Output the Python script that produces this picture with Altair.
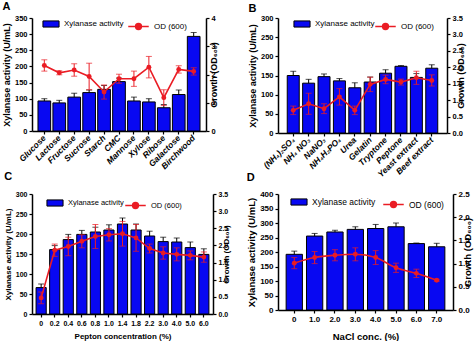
import altair as alt
import pandas as pd

BLUE = "#0808f2"
RED = "#ea1c24"

A_cat = ["Glucose", "Lactose", "Fructose", "Sucrose", "Starch", "CMC", "Mannose", "Xylose", "Ribose", "Galactose", "Birchwood"]
A_xyl = [93, 87, 105, 119, 129, 153, 93, 90, 72, 113, 293]
A_xyl_err = [7, 8, 12, 8, 12, 11, 12, 10, 10, 14, 12]
A_od = [2.32, 2.06, 2.16, 1.93, 1.38, 1.85, 1.85, 2.26, 1.18, 2.18, 2.11]
A_od_err = [0.20, 0.07, 0.22, 0.47, 0.25, 0.16, 0.27, 0.38, 0.28, 0.13, 0.13]

B_cat = ["(NH\u2084)\u2082SO\u2084", "NH\u2084 NO\u2083", "NaNO\u2083", "NH\u2084H\u2082PO\u2084", "Urea", "Gelatin", "Tryptone", "Peptone", "Yeast extract", "Beef extract"]
B_xyl = [150, 130, 147, 136, 118, 133, 156, 174, 145, 169]
B_xyl_err = [11, 10, 7, 6, 13, 13, 9, 2, 10, 9]
B_od = [0.69, 0.89, 0.74, 1.10, 0.69, 1.48, 1.63, 1.55, 1.68, 1.60]
B_od_err = [0.13, 0.32, 0.15, 0.25, 0.13, 0.22, 0.13, 0.09, 0.20, 0.17]

C_cat = ["0", "0.2", "0.4", "0.6", "0.8", "1.0", "1.4", "1.8", "2.2", "3.0", "4.0", "5.0", "6.0"]
C_xyl = [66, 161, 186, 199, 205, 210, 225, 210, 195, 181, 180, 166, 149]
C_xyl_err = [9, 10, 13, 10, 12, 13, 15, 15, 12, 11, 10, 14, 14]
C_od = [0.47, 1.86, 1.97, 2.12, 2.26, 2.31, 2.34, 2.22, 1.91, 1.78, 1.74, 1.71, 1.66]
C_od_err = [0.17, 0.18, 0.27, 0.19, 0.35, 0.18, 0.36, 0.39, 0.13, 0.18, 0.19, 0.13, 0.15]

D_cat = ["0", "1.0", "2.0", "3.0", "4.0", "5.0", "6.0", "7.0"]
D_xyl = [192, 255, 269, 278, 281, 287, 229, 218]
D_xyl_err = [11, 9, 6, 9, 14, 13, 2, 12]
D_od = [1.01, 1.13, 1.18, 1.20, 1.13, 0.91, 0.79, 0.64]
D_od_err = [0.12, 0.13, 0.12, 0.14, 0.15, 0.10, 0.09, 0.02]

NARROW = "Liberation Sans Narrow, Liberation Sans, DejaVu Sans, Arial"
REG = "Liberation Sans, DejaVu Sans, Arial"

LINE_SYM = "M-1,0H1M0.28,0A0.28,0.28,0,1,1,-0.28,0A0.28,0.28,0,1,1,0.28,0Z"
RECT_SYM = "M-1,-0.38H1V0.38H-1Z"


def panel(letter, cats, xyl, xerr, od, oderr, lmax, lstep, rmax, rstep, rfmt,
          w, h, pin, pout, xtitle, angle, lx1, lx2, ly, font, fs_lab, fs_xlab, fs_title, fs_leg,
          tdy, xtpad, interp="linear"):
    df = pd.DataFrame({
        "cat": cats, "xyl": xyl,
        "xyl_hi": [a + b for a, b in zip(xyl, xerr)],
        "od": od,
        "od_lo": [a - b for a, b in zip(od, oderr)],
        "od_hi": [a + b for a, b in zip(od, oderr)],
        "s1": ["Xylanase activity"] * len(cats),
        "s2": ["OD (600)"] * len(cats),
    })
    xaxis_kw = dict(labelAngle=angle, labelFont=font, labelFontSize=fs_xlab,
                    titleFont=font, titleFontSize=fs_title, labelPadding=2,
                    titlePadding=xtpad)
    xaxis_kw["title"] = xtitle if xtitle else None
    if angle != 0:
        xaxis_kw["labelAlign"] = "right"
        xaxis_kw["labelBaseline"] = "middle"
        xaxis_kw["labelFontStyle"] = "italic"
    x = alt.X("cat:N", sort=cats,
              scale=alt.Scale(paddingInner=pin, paddingOuter=pout),
              axis=alt.Axis(**xaxis_kw))
    lvals = list(range(0, lmax + 1, lstep))
    laxis = alt.Axis(title="Xylanase activity (U/mL)", values=lvals,
                     labelFont=font, titleFont=font, labelFontSize=fs_lab,
                     titleFontSize=fs_title)
    lscale = alt.Scale(domain=[0, lmax], nice=False)
    n = int(round(rmax / rstep))
    rvals = [round(i * rstep, 2) for i in range(n + 1)]
    raxis = alt.Axis(title="Growth (OD\u2086\u2080\u2080)", orient="right", values=rvals,
                     format=rfmt, titleAngle=270, labelFont=font, titleFont=font,
                     labelFontSize=fs_lab, titleFontSize=fs_title)
    rscale = alt.Scale(domain=[0, rmax], nice=False)

    base = alt.Chart(df)
    bars = base.mark_bar(stroke="black", strokeWidth=1).encode(
        x=x,
        y=alt.Y("xyl:Q", scale=lscale, axis=laxis),
        fill=alt.Fill("s1:N", scale=alt.Scale(domain=["Xylanase activity"], range=[BLUE]),
                      legend=alt.Legend(title=None, orient="none", legendX=lx1, legendY=ly,
                                        symbolType=RECT_SYM, symbolSize=260,
                                        symbolStrokeColor="black", symbolStrokeWidth=1,
                                        labelFont=font, labelFontSize=fs_leg)),
    )
    berr = base.mark_rule(color="black", strokeWidth=1).encode(
        x=x, y=alt.Y("xyl:Q", scale=lscale, axis=laxis), y2="xyl_hi:Q")
    btick = base.mark_tick(color="black", thickness=1, size=6, orient="horizontal").encode(
        x=x, y=alt.Y("xyl_hi:Q", scale=lscale, axis=laxis))
    left = alt.layer(bars, berr, btick)

    rerr = base.mark_rule(color=RED, strokeWidth=1).encode(
        x=x, y=alt.Y("od_lo:Q", scale=rscale, axis=raxis), y2="od_hi:Q")
    rtick1 = base.mark_tick(color=RED, thickness=1, size=6, orient="horizontal").encode(
        x=x, y=alt.Y("od_lo:Q", scale=rscale, axis=raxis))
    rtick2 = base.mark_tick(color=RED, thickness=1, size=6, orient="horizontal").encode(
        x=x, y=alt.Y("od_hi:Q", scale=rscale, axis=raxis))
    line = base.mark_line(strokeWidth=1.6, interpolate=interp).encode(
        x=x, y=alt.Y("od:Q", scale=rscale, axis=raxis),
        stroke=alt.Stroke("s2:N", scale=alt.Scale(domain=["OD (600)"], range=[RED]),
                          legend=alt.Legend(title=None, orient="none", legendX=lx2, legendY=ly,
                                            symbolType=LINE_SYM, symbolSize=420,
                                            symbolStrokeWidth=1.6, symbolFillColor=RED,
                                            labelFont=font, labelFontSize=fs_leg)),
    )
    pts = base.mark_point(filled=True, size=24, color=RED, opacity=1).encode(
        x=x, y=alt.Y("od:Q", scale=rscale, axis=raxis))
    right = alt.layer(rerr, rtick1, rtick2, line, pts)

    return alt.layer(left, right).resolve_scale(
        y="independent", fill="independent", stroke="independent"
    ).properties(
        width=w, height=h,
        title=alt.Title(letter, anchor="start", fontSize=11, fontWeight="bold",
                        font=REG, offset=2, frame="bounds", dy=tdy),
    )


pA = panel("A", A_cat, A_xyl, A_xyl_err, A_od, A_od_err, 350, 50, 4, 1, ".0f",
           174, 113, 0.15, 0.4, None, 315, 10, 95, -3, NARROW, 7.5, 8.5, 9, 8, 0, 3)
pB = panel("B", B_cat, B_xyl, B_xyl_err, B_od, B_od_err, 300, 50, 3.5, 0.5, ".1f",
           169, 115, 0.22, 0.6, None, 315, 15, 96, -3, NARROW, 7.5, 8.5, 9, 8, 2, 3)
pC = panel("C", C_cat, C_xyl, C_xyl_err, C_od, C_od_err, 300, 50, 3.5, 0.5, ".1f",
           181, 120, 0.25, 0.3, "Pepton concentration (%)", 0, 14, 92, 0, NARROW,
           7, 7, 8, 7.5, -6, 6)
pD = panel("D", D_cat, D_xyl, D_xyl_err, D_od, D_od_err, 400, 50, 2.5, 0.5, ".1f",
           175, 116, 0.2, 0.4, "NaCl conc. (%)", 0, 12, 104, -1, REG, 8, 8, 9.5, 8.5,
           -5, 8, interp="monotone")

chart = alt.concat(pA, pB, pC, pD, columns=2, bounds="flush",
                   spacing={"row": 61, "column": 65}).properties(
    padding={"left": 2, "top": 1, "right": 2, "bottom": 2}
).configure_axis(
    domainColor="black", domainWidth=1.5, tickColor="black", tickWidth=1.2, tickSize=3,
    labelFontWeight="bold", labelColor="black", titleFontWeight="bold", titleColor="black",
    grid=False, titlePadding=3,
).configure_view(stroke=None).configure_legend(
    padding=0, labelColor="black", labelOffset=4,
)

chart.save("out.html", embed_options={"renderer": "svg", "actions": False})
